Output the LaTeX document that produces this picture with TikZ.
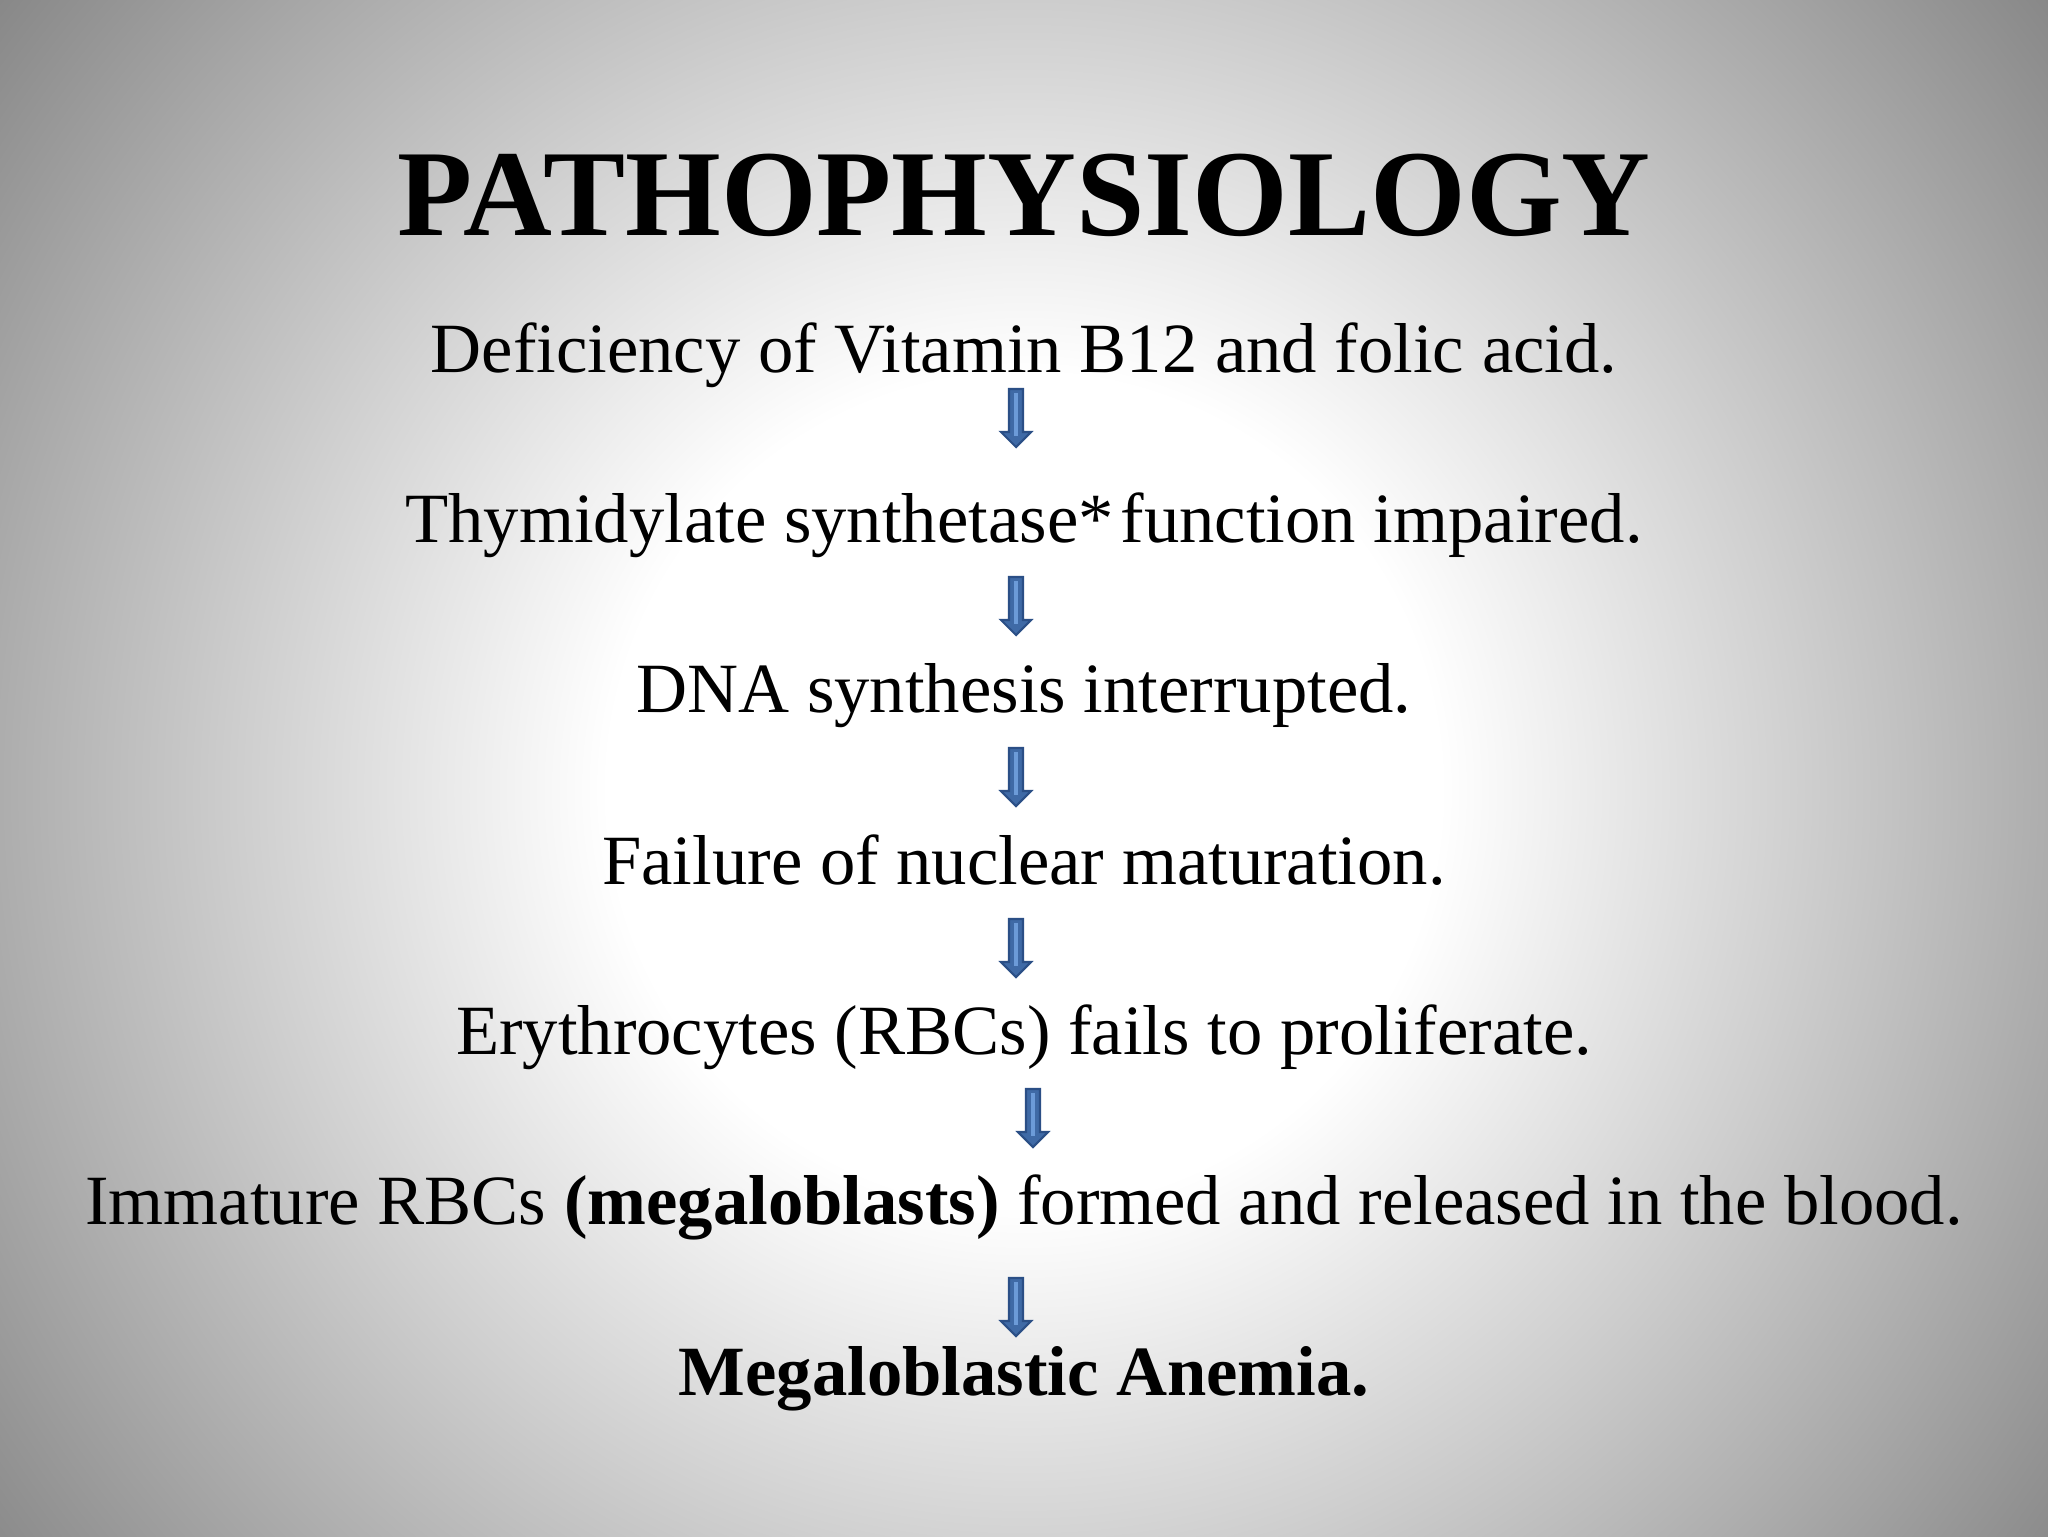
\documentclass[tikz,border=0pt]{standalone}
\usepackage{fontspec}
\setmainfont{Liberation Serif}
\pgfdeclareradialshading{bgrad}{\pgfpoint{0bp}{0bp}}{%
  color(0bp)=(white); color(8bp)=(white); color(15bp)=(black!19); color(25bp)=(black!47); color(50bp)=(black!47)}
\definecolor{arrowfill}{HTML}{3F6AA6}
\definecolor{arrowline}{HTML}{2B4F86}
\definecolor{arrowlight}{HTML}{6C9BD8}
\tikzset{
  titletext/.style={anchor=base, inner sep=0pt, font=\fontsize{35}{42}\selectfont\bfseries},
  bodytext/.style={anchor=base, inner sep=0pt, font=\fontsize{20.1}{24}\selectfont},
  blockarrow/.style={fill=arrowfill, draw=arrowline, line width=0.6pt, line join=miter},
  arrowstripe/.style={draw=arrowlight, line width=1.1pt}
}
\begin{document}
\begin{tikzpicture}[x=0.1mm, y=-0.1mm]
\useasboundingbox (0,0) rectangle (2048,1536);
\begin{scope}
  \clip (0,0) rectangle (2048,1536);
  \shade[shading=bgrad] (1024,790) circle (1300);
\end{scope}
\node[titletext] (title) at (1024,235) {PATHOPHYSIOLOGY};
\node[bodytext] (t1) at (1024,372) {Deficiency of Vitamin B12 and folic acid.};
\node[bodytext] (t2) at (1024,542) {Thymidylate synthetase*\kern2pt function impaired.};
\node[bodytext] (t3) at (1024,712) {DNA synthesis interrupted.};
\node[bodytext] (t4) at (1024,884) {Failure of nuclear maturation.};
\node[bodytext] (t5) at (1024,1054) {Erythrocytes (RBCs) fails to proliferate.};
\node[bodytext] (t6) at (1024,1224) {Immature RBCs \textbf{(megaloblasts)} formed and released in the blood.};
\node[bodytext] (t7) at (1024,1395) {\textbf{Megaloblastic Anemia.}};
\foreach \n/\x/\y in {a1/1016/389, a2/1016/577, a3/1016/748, a4/1016/919, a5/1033/1089, a6/1016/1278}{
  \coordinate (\n) at (\x,\y);
  \path[blockarrow] ([xshift=-7*0.1mm]\n) -- ([xshift=7*0.1mm]\n) -- ([xshift=7*0.1mm, yshift=-43*0.1mm]\n)
    -- ([xshift=15*0.1mm, yshift=-43*0.1mm]\n) -- ([yshift=-58*0.1mm]\n) -- ([xshift=-15*0.1mm, yshift=-43*0.1mm]\n)
    -- ([xshift=-7*0.1mm, yshift=-43*0.1mm]\n) -- cycle;
  \path[arrowstripe] ([yshift=-4*0.1mm]\n) -- ([yshift=-47*0.1mm]\n);
}
\end{tikzpicture}
\end{document}
